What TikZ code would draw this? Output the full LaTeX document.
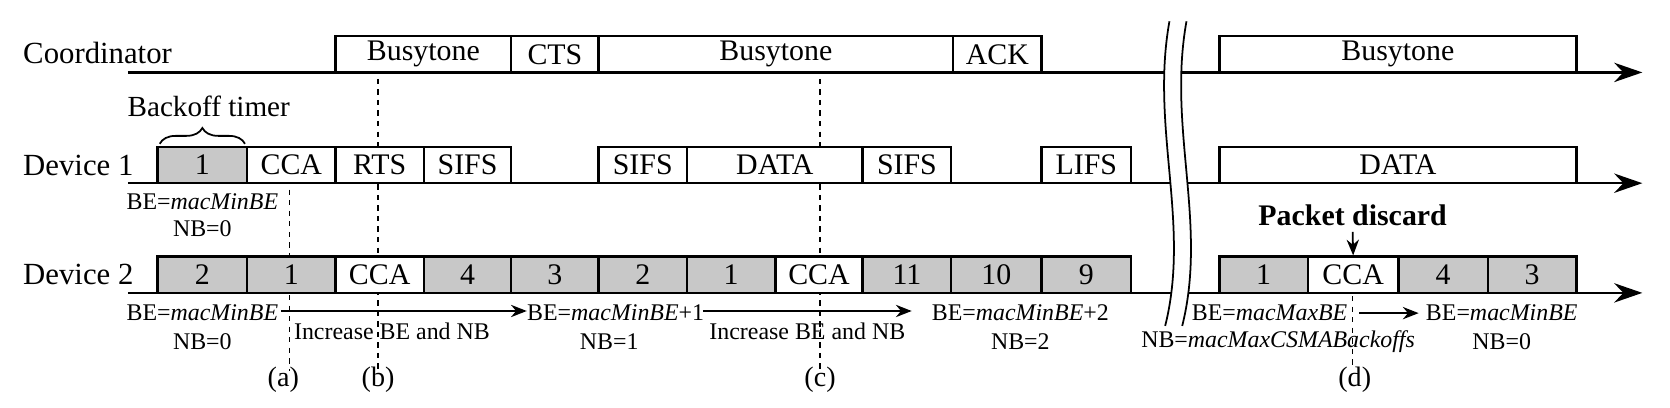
\documentclass[tikz,border=0pt]{standalone}
\usepackage{fontspec}
\setmainfont{Liberation Serif}
\usetikzlibrary{arrows.meta,decorations.pathreplacing}
\definecolor{boxgray}{HTML}{C8C8C8}
\tikzset{
  box/.style={draw,line width=1.4pt,inner sep=0pt,font=\fontsize{17}{17}\selectfont},
  lbl/.style={font=\fontsize{17.5}{17.5}\selectfont,anchor=west},
  small/.style={font=\fontsize{13.6}{13.6}\selectfont,inner sep=0pt},
  axis/.style={line width=1.4pt,-{Stealth[length=16pt,width=11pt]}},
  guide/.style={dashed,line width=0.7pt},
  marker/.style={line width=1pt,-{Stealth[length=9pt,width=7pt]}}
}
\newcommand\bx[6]{\node[box,fill=#6,minimum width={(#3-#2)*0.0213cm},minimum height=0.724cm] (#1) at ({(#2+#3)/2},{#4-17}) {#5};}
\begin{document}
\begin{tikzpicture}[x=0.0213cm,y=-0.0213cm]
\useasboundingbox (0,0) rectangle (1568,383);
% dashed guides
\coordinate (ga1) at (272,178); \coordinate (ga2) at (272,348);
\coordinate (gb1) at (355,74); \coordinate (gb2) at (355,348);
\coordinate (gc1) at (770,74); \coordinate (gc2) at (770,346);
\coordinate (gd1) at (1270,278); \coordinate (gd2) at (1270,346);
\draw[guide] (ga1)--(ga2); \draw[guide] (gb1)--(gb2); \draw[guide] (gc1)--(gc2); \draw[guide] (gd1)--(gd2);
% axes
\coordinate (c0) at (120,68); \coordinate (c1) at (1542,68);
\coordinate (d10) at (120,172); \coordinate (d11) at (1542,172);
\coordinate (d20) at (120,275); \coordinate (d21) at (1542,275);
\draw[axis] (c0)--(c1); \draw[axis] (d10)--(d11); \draw[axis] (d20)--(d21);
\node[lbl] (lc) at (16,50) {Coordinator};
\node[lbl] (l1) at (16,155) {Device 1};
\node[lbl] (l2) at (16,258) {Device 2};
% coordinator
\bx{cb1}{315}{480}{68}{Busytone}{white}
\bx{cts}{480}{562}{68}{CTS}{white}
\bx{cb2}{562}{895}{68}{Busytone}{white}
\bx{ack}{895}{978}{68}{ACK}{white}
\bx{cb3}{1145}{1480}{68}{Busytone}{white}
% device 1
\bx{a1}{148}{232}{172}{1}{boxgray}
\bx{a2}{232}{315}{172}{CCA}{white}
\bx{a3}{315}{398}{172}{RTS}{white}
\bx{a4}{398}{480}{172}{SIFS}{white}
\bx{a5}{562}{645}{172}{SIFS}{white}
\bx{a6}{645}{810}{172}{DATA}{white}
\bx{a7}{810}{893}{172}{SIFS}{white}
\bx{a8}{978}{1062}{172}{LIFS}{white}
\bx{a9}{1145}{1480}{172}{DATA}{white}
% device 2
\bx{b1}{148}{232}{275}{2}{boxgray}
\bx{b2}{232}{315}{275}{1}{boxgray}
\bx{b3}{315}{398}{275}{CCA}{white}
\bx{b4}{398}{480}{275}{4}{boxgray}
\bx{b5}{480}{562}{275}{3}{boxgray}
\bx{b6}{562}{645}{275}{2}{boxgray}
\bx{b7}{645}{728}{275}{1}{boxgray}
\bx{b8}{728}{810}{275}{CCA}{white}
\bx{b9}{810}{893}{275}{11}{boxgray}
\bx{b10}{893}{978}{275}{10}{boxgray}
\bx{b11}{978}{1062}{275}{9}{boxgray}
\bx{e1}{1145}{1228}{275}{1}{boxgray}
\bx{e2}{1228}{1313}{275}{CCA}{white}
\bx{e3}{1313}{1397}{275}{4}{boxgray}
\bx{e4}{1397}{1480}{275}{3}{boxgray}
% brace
\draw[decorate,decoration={brace,amplitude=9pt},line width=1pt] (150,135) -- (230,135);
\node[font=\fontsize{16.6}{16.6}\selectfont] (bt) at (196,100) {Backoff timer};
% labels device 1
\node[small] (t1) at (190,189) {BE=\textit{macMinBE}};
\node[small] (t2) at (190,215) {NB=0};
% labels device 2
\node[small] (u1) at (190,294) {BE=\textit{macMinBE}};
\node[small] (u2) at (190,321) {NB=0};
\node[small] (u3) at (578,294) {BE=\textit{macMinBE}+1};
\node[small] (u4) at (572,321) {NB=1};
\node[small] (u5) at (958,294) {BE=\textit{macMinBE}+2};
\node[small] (u6) at (958,321) {NB=2};
\node[small] (inc1) at (368,311) {Increase BE and NB};
\node[small] (inc2) at (758,311) {Increase BE and NB};
\coordinate (s1) at (264,292);
\draw[marker] (s1) -- (u3.west |- s1);
\coordinate (s2) at (660,292);
\draw[marker] (s2) -- (856,292);
\node[small] (v1) at (1192,294) {BE=\textit{macMaxBE}};
\node[small] (v2) at (1200,321) {NB=\textit{macMaxCSMABackoffs}};
\node[small] (v3) at (1410,294) {BE=\textit{macMinBE}};
\node[small] (v4) at (1410,321) {NB=0};
\coordinate (s3) at (1276,294);
\draw[marker] (s3) -- (1332,294);
\node[font=\bfseries\fontsize{17}{17}\selectfont] (pd) at (1270,202) {Packet discard};
\draw[marker] (pd.south) -- (e2.north);
\node[small,font=\fontsize{16}{16}\selectfont] (la) at (266,357) {(a)};
\node[small,font=\fontsize{16}{16}\selectfont] (lb) at (355,357) {(b)};
\node[small,font=\fontsize{16}{16}\selectfont] (lc2) at (770,357) {(c)};
\node[small,font=\fontsize{16}{16}\selectfont] (ld) at (1272,357) {(d)};
% break
\fill[white] (1098,20) .. controls (1080,120) and (1118,210) .. (1094,306) -- (1110,306) .. controls (1134,210) and (1096,120) .. (1114,20) -- cycle;
\draw[line width=1pt] (1098,20) .. controls (1080,120) and (1118,210) .. (1094,306);
\draw[line width=1pt] (1114,20) .. controls (1096,120) and (1134,210) .. (1110,306);
\end{tikzpicture}
\end{document}
